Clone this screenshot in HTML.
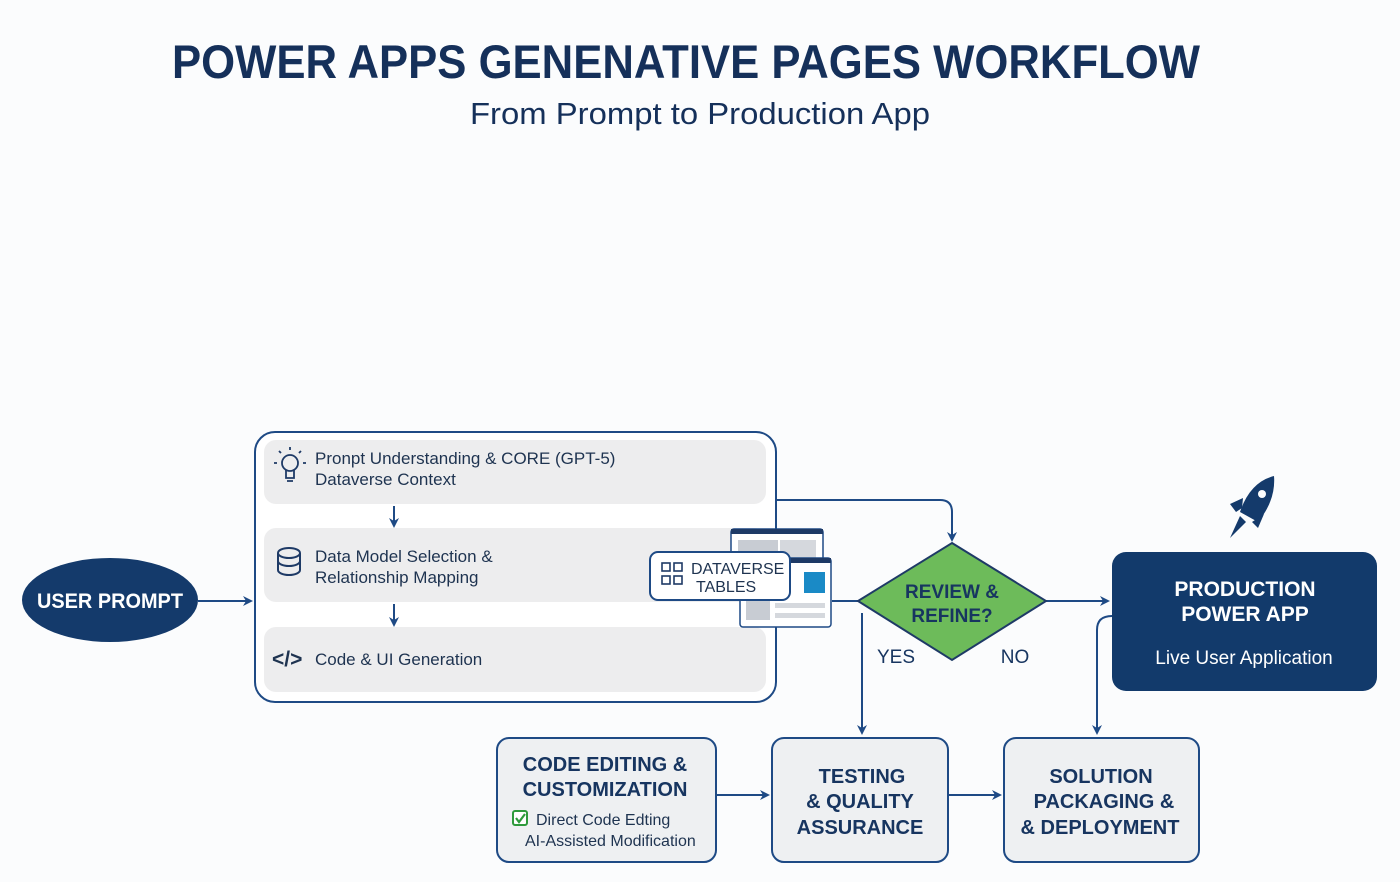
<!DOCTYPE html>
<html><head><meta charset="utf-8"><style>
html,body{margin:0;padding:0;background:#fbfcfd;}
svg{display:block;font-family:"Liberation Sans",sans-serif;}
</style></head><body>
<svg width="1400" height="882" viewBox="0 0 1400 882" xmlns="http://www.w3.org/2000/svg">
<defs>
<marker id="ar" markerWidth="10" markerHeight="10" refX="8" refY="5" orient="auto" markerUnits="userSpaceOnUse">
<path d="M0,0 L10,5 L0,10 L3,5 Z" fill="#1e4a85"/></marker>
</defs>
<rect width="1400" height="882" fill="#fbfcfd"/>
<text x="686" y="78" text-anchor="middle" font-size="47" font-weight="bold" fill="#15305a" textLength="1028" lengthAdjust="spacingAndGlyphs">POWER APPS GENENATIVE PAGES WORKFLOW</text>
<text x="700" y="124" text-anchor="middle" font-size="31" fill="#15305a" textLength="460" lengthAdjust="spacingAndGlyphs">From Prompt to Production App</text>

<!-- user prompt -->
<ellipse cx="110" cy="600" rx="88" ry="42" fill="#143a6b"/>
<text x="110" y="608" text-anchor="middle" font-size="21" font-weight="bold" fill="#fff" textLength="146" lengthAdjust="spacingAndGlyphs">USER PROMPT</text>
<line x1="198" y1="601" x2="251" y2="601" stroke="#1e4a85" stroke-width="2" marker-end="url(#ar)"/>

<!-- container -->
<rect x="255" y="432" width="521" height="270" rx="20" fill="#fff" stroke="#1e4a85" stroke-width="2"/>
<rect x="264" y="440" width="502" height="64" rx="12" fill="#ededee"/>
<rect x="264" y="528" width="502" height="74" rx="12" fill="#ededee"/>
<rect x="264" y="627" width="502" height="65" rx="12" fill="#ededee"/>
<line x1="394" y1="506" x2="394" y2="526" stroke="#1e4a85" stroke-width="2" marker-end="url(#ar)"/>
<line x1="394" y1="604" x2="394" y2="625" stroke="#1e4a85" stroke-width="2" marker-end="url(#ar)"/>

<!-- bulb icon -->
<g stroke="#1e3a66" stroke-width="1.8" fill="none">
<circle cx="290" cy="463" r="8"/><path d="M286 470 v8 h8 v-8 M287 481 h6"/>
<path d="M277 463 h-3 M303 463 h3 M281 453 l-2 -2 M299 453 l2 -2 M290 450 v-3"/>
</g>
<text x="315" y="464" font-size="17" fill="#1e3350">Pronpt Understanding &amp; CORE (GPT-5)</text>
<text x="315" y="485" font-size="17" fill="#1e3350">Dataverse Context</text>
<!-- db icon -->
<g stroke="#1e3a66" stroke-width="2" fill="none">
<ellipse cx="289" cy="553" rx="11" ry="5"/><path d="M278 553 v17 a11 5 0 0 0 22 0 v-17 M278 561 a11 5 0 0 0 22 0"/>
</g>
<text x="315" y="562" font-size="17" fill="#1e3350">Data Model Selection &amp;</text>
<text x="315" y="583" font-size="17" fill="#1e3350">Relationship Mapping</text>
<text x="272" y="666" font-size="21" font-weight="bold" fill="#1e3350">&lt;/&gt;</text>
<text x="315" y="665" font-size="17" fill="#1e3350">Code &amp; UI Generation</text>

<!-- dataverse windows -->
<rect x="731" y="529" width="92" height="56" rx="3" fill="#fff" stroke="#1e4a85" stroke-width="1.5"/>
<rect x="731" y="529" width="92" height="5" fill="#1e3a66"/>
<rect x="738" y="540" width="40" height="18" fill="#c8ccd3"/><rect x="780" y="540" width="36" height="18" fill="#d5d8dd"/>
<rect x="740" y="558" width="91" height="69" rx="3" fill="#fff" stroke="#1e4a85" stroke-width="1.5"/>
<rect x="740" y="558" width="91" height="5" fill="#1e3a66"/>
<rect x="804" y="572" width="21" height="21" fill="#1a8ac6"/>
<rect x="746" y="596" width="24" height="24" fill="#c8ccd3"/>
<rect x="775" y="603" width="50" height="5" fill="#d5d8dd"/><rect x="775" y="613" width="50" height="5" fill="#d5d8dd"/>
<rect x="650" y="552" width="140" height="48" rx="8" fill="#fff" stroke="#1e4a85" stroke-width="2"/>
<g stroke="#1e3a66" stroke-width="1.6" fill="none">
<rect x="662" y="563" width="8" height="8"/><rect x="674" y="563" width="8" height="8"/>
<rect x="662" y="576" width="8" height="8"/><rect x="674" y="576" width="8" height="8"/></g>
<text x="691" y="574" font-size="16" fill="#1e3350">DATAVERSE</text>
<text x="696" y="592" font-size="16" fill="#1e3350">TABLES</text>

<!-- connectors -->
<path d="M776 500 H940 Q952 500 952 512 V540" stroke="#1e4a85" stroke-width="2" fill="none" marker-end="url(#ar)"/>
<line x1="832" y1="601" x2="858" y2="601" stroke="#1e4a85" stroke-width="2"/>
<line x1="1046" y1="601" x2="1108" y2="601" stroke="#1e4a85" stroke-width="2" marker-end="url(#ar)"/>
<line x1="862" y1="613" x2="862" y2="733" stroke="#1e4a85" stroke-width="2" marker-end="url(#ar)"/>
<path d="M1112 616 Q1097 616 1097 630 V733" stroke="#1e4a85" stroke-width="2" fill="none" marker-end="url(#ar)"/>
<line x1="716" y1="795" x2="768" y2="795" stroke="#1e4a85" stroke-width="2" marker-end="url(#ar)"/>
<line x1="948" y1="795" x2="1000" y2="795" stroke="#1e4a85" stroke-width="2" marker-end="url(#ar)"/>

<!-- diamond -->
<polygon points="952,543 1046,601 952,660 858,601" fill="#6dbb5a" stroke="#1e3a66" stroke-width="2"/>
<text x="952" y="598" text-anchor="middle" font-size="19" font-weight="bold" fill="#173560">REVIEW &amp;</text>
<text x="952" y="622" text-anchor="middle" font-size="19" font-weight="bold" fill="#173560">REFINE?</text>
<text x="896" y="663" text-anchor="middle" font-size="19" fill="#173560">YES</text>
<text x="1015" y="663" text-anchor="middle" font-size="19" fill="#173560">NO</text>

<!-- production -->
<rect x="1112" y="552" width="265" height="139" rx="14" fill="#123a6b"/>
<text x="1245" y="596" text-anchor="middle" font-size="21" font-weight="bold" fill="#fff">PRODUCTION</text>
<text x="1245" y="621" text-anchor="middle" font-size="21" font-weight="bold" fill="#fff">POWER APP</text>
<text x="1244" y="664" text-anchor="middle" font-size="19" fill="#fff">Live User Application</text>
<!-- rocket -->
<g fill="#143a6b">
<path d="M1274 476 Q1250 482 1240 512 L1258 522 Q1276 500 1274 476 Z"/>
<path d="M1243 498 L1230 504 L1236 512 L1242 508 Z"/>
<path d="M1264 514 L1258 528 L1252 522 Z"/>
<path d="M1240 516 L1230 538 L1246 522 Z"/>
<circle cx="1262" cy="494" r="4" fill="#fbfcfd"/>
</g>

<!-- bottom boxes -->
<rect x="497" y="738" width="219" height="124" rx="12" fill="#eef0f2" stroke="#1e4a85" stroke-width="2"/>
<text x="605" y="771" text-anchor="middle" font-size="20" font-weight="bold" fill="#173560">CODE EDITING &amp;</text>
<text x="605" y="796" text-anchor="middle" font-size="20" font-weight="bold" fill="#173560">CUSTOMIZATION</text>
<rect x="513" y="811" width="14" height="14" rx="2" fill="#fff" stroke="#2e9a3c" stroke-width="2"/>
<path d="M516 818 l3 4 l6 -8" stroke="#2e9a3c" stroke-width="2.2" fill="none"/>
<text x="536" y="825" font-size="16" fill="#1e3350">Direct Code Edting</text>
<text x="525" y="846" font-size="16" fill="#1e3350">AI-Assisted Modification</text>

<rect x="772" y="738" width="176" height="124" rx="12" fill="#eef0f2" stroke="#1e4a85" stroke-width="2"/>
<text x="862" y="783" text-anchor="middle" font-size="20" font-weight="bold" fill="#173560">TESTING</text>
<text x="860" y="808" text-anchor="middle" font-size="20" font-weight="bold" fill="#173560">&amp; QUALITY</text>
<text x="860" y="834" text-anchor="middle" font-size="20" font-weight="bold" fill="#173560">ASSURANCE</text>

<rect x="1004" y="738" width="195" height="124" rx="12" fill="#eef0f2" stroke="#1e4a85" stroke-width="2"/>
<text x="1101" y="783" text-anchor="middle" font-size="20" font-weight="bold" fill="#173560">SOLUTION</text>
<text x="1104" y="808" text-anchor="middle" font-size="20" font-weight="bold" fill="#173560">PACKAGING &amp;</text>
<text x="1100" y="834" text-anchor="middle" font-size="20" font-weight="bold" fill="#173560">&amp; DEPLOYMENT</text>
</svg>
</body></html>
